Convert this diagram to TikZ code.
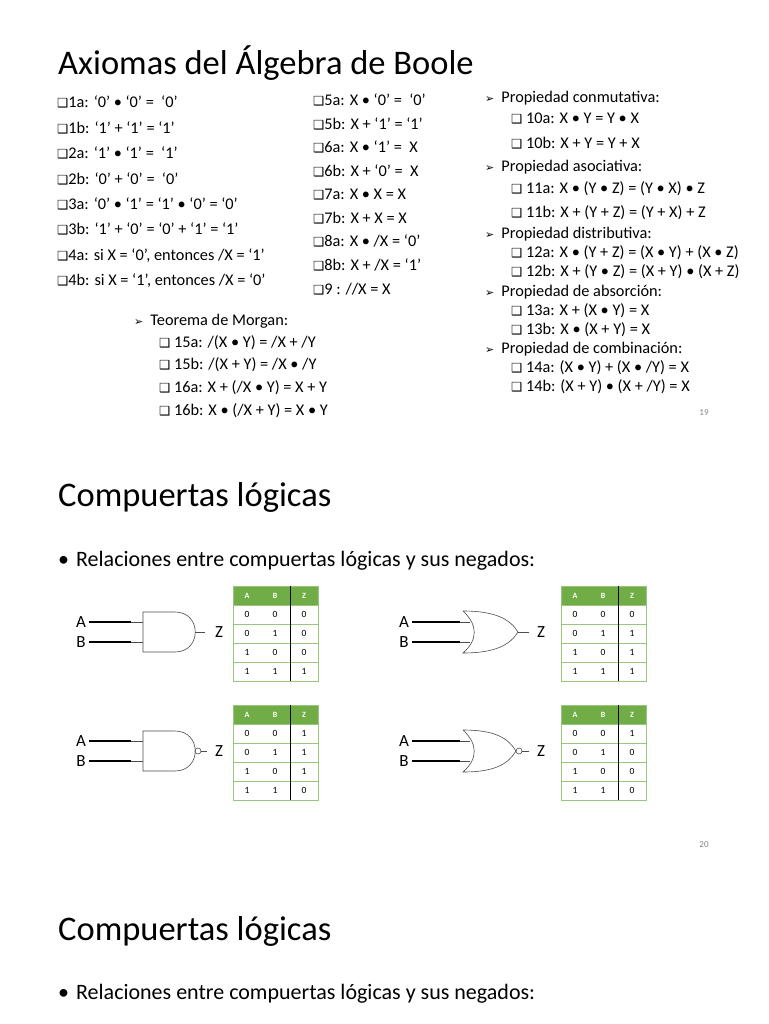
\documentclass[tikz,border=0pt]{standalone}
\usepackage{fontspec}
\setmainfont{Carlito}
\newfontfamily\dv{DejaVu Sans}
\begin{document}
\begin{tikzpicture}[x=1pt,y=-1pt,
 title/.style={anchor=base west,font=\fontsize{34.5}{34}\selectfont,inner sep=0},
 txt/.style={anchor=base west,yshift=-5pt,font=\fontsize{16.3}{16}\selectfont,inner sep=0},
 big/.style={anchor=base west,yshift=-6pt,font=\fontsize{22}{22}\selectfont,inner sep=0},
 pg/.style={font=\fontsize{9}{9}\selectfont,text=gray,inner sep=0},
 lab/.style={font=\fontsize{17}{17}\selectfont},
 wire/.style={line width=1.1pt},
 gate/.style={draw=black!70,line width=0.6pt}]
\useasboundingbox (0,0) rectangle (768,1024);
\newcommand{\cb}{{\dv\fontsize{12.5}{12}\selectfont ❑}}
\newcommand{\ar}{{\dv\fontsize{11}{11}\selectfont ➢}}
\node[title] (t1) at (58,75) {Axiomas del Álgebra de Boole};
% column 1
\foreach \t [count=\i] in {{1a: ‘0’ • ‘0’ =\ \ ‘0’},{1b: ‘1’ + ‘1’ = ‘1’},{2a: ‘1’ • ‘1’ =\ \ ‘1’},{2b: ‘0’ + ‘0’ =\ \ ‘0’},{3a: ‘0’ • ‘1’ = ‘1’ • ‘0’ = ‘0’},{3b: ‘1’ + ‘0’ = ‘0’ + ‘1’ = ‘1’},{4a: si X = ‘0’, entonces /X = ‘1’},{4b: si X = ‘1’, entonces /X = ‘0’}}
  \node[txt] (c1-\i) at (57,77.6+25.4*\i) {\cb\t};
% column 2
\foreach \t [count=\i] in {{5a: X • ‘0’ =\ \ ‘0’},{5b: X + ‘1’ = ‘1’},{6a: X • ‘1’ =\ \ X},{6b: X + ‘0’ =\ \ X},{7a: X • X = X},{7b: X + X = X},{8a: X • /X = ‘0’},{8b: X + /X = ‘1’},{9 : //X = X}}
  \node[txt] (c2-\i) at (313,77.5+23.5*\i) {\cb\t};
% column 3
\foreach \y/\t [count=\i] in {98/Propiedad conmutativa:,167/Propiedad asociativa:,233/Propiedad distributiva:,291/Propiedad de absorción:,348/Propiedad de combinación:}
  \node[txt] (h3-\i) at (485,\y) {\ar\hspace{7pt}\t};
\foreach \y/\t [count=\i] in {119/{10a: X • Y = Y • X},144/{10b: X + Y = Y + X},189/{11a: X • (Y • Z) = (Y • X) • Z},213/{11b: X + (Y + Z) = (Y + X) + Z},252/{12a: X • (Y + Z) = (X • Y) + (X • Z)},271/{12b: X + (Y • Z) = (X + Y) • (X + Z)},310/{13a: X + (X • Y) = X},329/{13b: X • (X + Y) = X},367/{14a: (X • Y) + (X • /Y) = X},386/{14b: (X + Y) • (X + /Y) = X}}
  \node[txt] (c3-\i) at (511,\y) {\cb\ \t};
% Morgan
\node[txt] (hm) at (134,320) {\ar\hspace{7pt}Teorema de Morgan:};
\foreach \y/\t [count=\i] in {342/{15a: /(X • Y) = /X + /Y},364/{15b: /(X + Y) = /X • /Y},387/{16a: X + (/X • Y) = X + Y},410/{16b: X • (/X + Y) = X • Y}}
  \node[txt] (m-\i) at (159,\y) {\cb\ \t};
\node[pg] (p19) at (704,413) {19};
% slide 2
\node[title] (t2) at (58,506) {Compuertas lógicas};
\node[big] (b2) at (58,560) {•\hspace{7pt}Relaciones entre compuertas lógicas y sus negados:};
\node[pg] (p20) at (704,845) {20};
\node[title] (t3) at (58,940) {Compuertas lógicas};
\node[big] (b3) at (58,993) {•\hspace{7pt}Relaciones entre compuertas lógicas y sus negados:};
% truth tables
\definecolor{gr}{HTML}{70AD47}
\newcommand{\ttab}[6]{%
 \begin{scope}[shift={(#1,#2)}]
  \fill[gr] (0,0) rectangle (85,19);
  \draw[gr!70,line width=0.8pt] (0,0) rectangle (85,95);
  \foreach \r in {1,2,3,4} \draw[gr!70,line width=0.8pt] (0,19*\r) -- (85,19*\r);
  \draw[black,line width=1pt] (57,0) -- (57,95);
  \node[font=\fontsize{8}{8}\selectfont\bfseries,text=white] at (14,9.5) {A};
  \node[font=\fontsize{8}{8}\selectfont\bfseries,text=white] at (42,9.5) {B};
  \node[font=\fontsize{8}{8}\selectfont\bfseries,text=white] at (71,9.5) {Z};
  \foreach \a/\b/\z [count=\r] in {0/0/#3,0/1/#4,1/0/#5,1/1/#6}{
   \node[font=\fontsize{9.5}{9}\selectfont] at (14,9.5+19*\r) {\a};
   \node[font=\fontsize{9.5}{9}\selectfont] at (42,9.5+19*\r) {\b};
   \node[font=\fontsize{9.5}{9}\selectfont] at (71,9.5+19*\r) {\z};}
 \end{scope}}
\ttab{233}{586}{0}{0}{0}{1}
\ttab{561}{586}{0}{1}{1}{1}
\ttab{233}{705}{1}{1}{1}{0}
\ttab{561}{705}{1}{0}{0}{0}
% AND
\node[lab] (a1) at (81,622) {A};
\node[lab] (b1) at (81,642) {B};
\draw[wire] (a1.east) -- ++(42,0) coordinate (a1e);
\draw[wire] (b1.east) -- ++(42,0) coordinate (b1e);
\draw[gate] (a1e) -- (143,622) (b1e) -- (143,642);
\draw[gate] (143,612) -- (175,612) .. controls (202,612) and (202,652) .. (175,652) -- (143,652) -- cycle;
\draw[gate] (195,632) -- (205,632);
\node[lab] (z1) at (219,632) {Z};
% NAND
\node[lab] (a3) at (81,741) {A};
\node[lab] (b3) at (81,761) {B};
\draw[wire] (a3.east) -- ++(42,0) coordinate (a3e);
\draw[wire] (b3.east) -- ++(42,0) coordinate (b3e);
\draw[gate] (a3e) -- (143,741) (b3e) -- (143,761);
\draw[gate] (143,731) -- (175,731) .. controls (202,731) and (202,771) .. (175,771) -- (143,771) -- cycle;
\draw[gate] (198,751) circle (3);
\draw[gate] (201,751) -- (207,751);
\node[lab] (z3) at (219,751) {Z};
% OR
\node[lab] (a2) at (404,622) {A};
\node[lab] (b2l) at (404,642) {B};
\draw[wire] (a2.east) -- ++(48,0) coordinate (a2e);
\draw[wire] (b2l.east) -- ++(48,0) coordinate (b2e);
\draw[gate] (a2e) -- (470,622) (b2e) -- (470,642);
\draw[gate] (463,611) .. controls (478,625) and (478,640) .. (463,653)
  .. controls (495,653) and (510,645) .. (518,632)
  .. controls (510,619) and (495,611) .. (463,611);
\draw[gate] (518,632) -- (529,632);
\node[lab] (z2) at (541,632) {Z};
% NOR
\node[lab] (a4) at (404,741) {A};
\node[lab] (b4) at (404,761) {B};
\draw[wire] (a4.east) -- ++(48,0) coordinate (a4e);
\draw[wire] (b4.east) -- ++(48,0) coordinate (b4e);
\draw[gate] (a4e) -- (470,741) (b4e) -- (470,761);
\draw[gate] (463,730) .. controls (478,744) and (478,759) .. (463,772)
  .. controls (495,772) and (508,764) .. (516,751)
  .. controls (508,738) and (495,730) .. (463,730);
\draw[gate] (519,751) circle (3);
\draw[gate] (522,751) -- (529,751);
\node[lab] (z4) at (541,751) {Z};
\end{tikzpicture}
\end{document}
